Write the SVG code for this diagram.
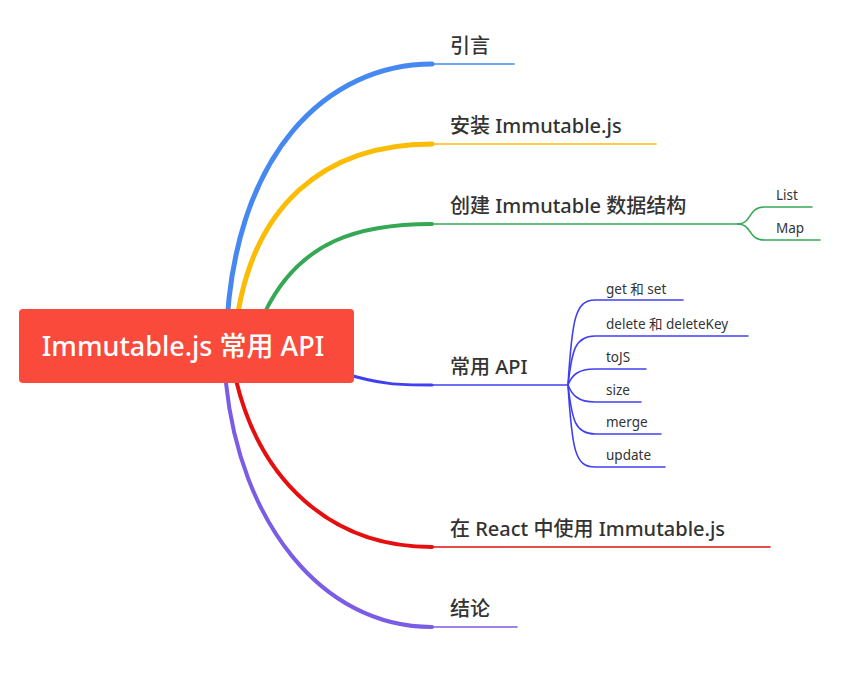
<svg xmlns="http://www.w3.org/2000/svg" width="849" height="680" viewBox="0 0 849 680">
<style>
.m{font-family:"Noto Sans","Noto Sans CJK SC",sans-serif;font-size:20px;font-weight:500;fill:#333}
.s{font-family:"Noto Sans","Noto Sans CJK SC",sans-serif;font-size:13.5px;fill:#333}
path{fill:none;stroke-linecap:round}
.a{stroke:#4040f0;stroke-width:1.6}
.g{stroke:#34a853;stroke-width:1.6}
</style>
<rect width="849" height="680" fill="#fff"/>
<g id="connectors">
<path d="M226,346 C230,150 330,64 432,64" stroke="#4688f1" stroke-width="5"/>
<path d="M432,64 H514" stroke="#4688f1" stroke-width="1.6"/>
<path d="M234,346 C245,200 330,144 432,144" stroke="#fbbc05" stroke-width="5"/>
<path d="M432,144 H656" stroke="#fbbc05" stroke-width="1.6"/>
<path d="M265,312 C300,240 360,224 432,224" stroke="#34a853" stroke-width="4"/>
<path d="M432,224 H738" stroke="#34a853" stroke-width="1.6"/>
<path d="M340,372 C380,385 400,385 432,385" stroke="#4040f0" stroke-width="3"/>
<path d="M432,385 H568" stroke="#4040f0" stroke-width="1.6"/>
<path d="M236,380 C260,480 330,547 432,547" stroke="#e60f0f" stroke-width="4"/>
<path d="M432,547 H770" stroke="#e60f0f" stroke-width="1.6"/>
<path d="M226,383 C240,520 320,627 432,627" stroke="#7b5ce6" stroke-width="4"/>
<path d="M432,627 H517" stroke="#7b5ce6" stroke-width="1.6"/>
<path class="g" d="M738,224 C752,224 748,207 764,207 H812"/>
<path class="g" d="M738,224 C752,224 748,240 764,240 H820"/>
<path class="a" d="M568,385 C572,320 575,300 595,300 H683"/>
<path class="a" d="M568,385 C572,350 575,336 595,336 H748"/>
<path class="a" d="M568,385 C572,375 578,369 595,369 H646"/>
<path class="a" d="M568,385 C572,395 578,402 595,402 H641"/>
<path class="a" d="M568,385 C572,420 575,434 595,434 H661"/>
<path class="a" d="M568,385 C572,450 575,467 595,467 H665"/>
</g>
<g id="root"><rect x="19" y="309" width="335" height="74" rx="4" fill="#fa4a3c"/>
<text x="183" y="356" text-anchor="middle" font-family="'Noto Sans','Noto Sans CJK SC',sans-serif" font-size="27" font-weight="500" fill="#fff">Immutable.js 常用 API</text></g>
<g id="n1"><text class="m" x="450" y="53">引言</text></g>
<g id="n2"><text class="m" x="450" y="133">安装 Immutable.js</text></g>
<g id="n3"><text class="m" x="450" y="213">创建 Immutable 数据结构</text></g>
<g id="n3a"><text class="s" x="776" y="200">List</text></g>
<g id="n3b"><text class="s" x="776" y="233">Map</text></g>
<g id="n4"><text class="m" x="450" y="374">常用 API</text></g>
<g id="n4a"><text class="s" x="606" y="294">get 和 set</text></g>
<g id="n4b"><text class="s" x="606" y="329">delete 和 deleteKey</text></g>
<g id="n4c"><text class="s" x="606" y="362">toJS</text></g>
<g id="n4d"><text class="s" x="606" y="395">size</text></g>
<g id="n4e"><text class="s" x="606" y="427">merge</text></g>
<g id="n4f"><text class="s" x="606" y="460">update</text></g>
<g id="n5"><text class="m" x="450" y="536">在 React 中使用 Immutable.js</text></g>
<g id="n6"><text class="m" x="450" y="616">结论</text></g>
</svg>
